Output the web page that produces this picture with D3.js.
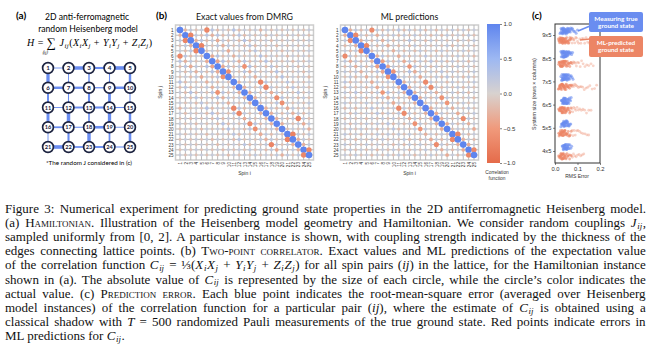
<!DOCTYPE html>
<html>
<head>
<meta charset="utf-8">
<script src="https://cdn.jsdelivr.net/npm/d3@7"></script>
<style>
  html, body { margin: 0; padding: 0; background: #fff; }
  svg { display: block; }
  .cap { font-family: "Liberation Serif", serif; fill: #111; white-space: pre; }
  .sans { font-family: "Liberation Sans", Arial, sans-serif; }
  .lato { font-family: Lato, "Open Sans", sans-serif; }
</style>
</head>
<body>
<svg id="fig" width="651" height="348"></svg>
<script>
// ---------- data ----------
const spinLabels = [1,2,3,4,5,6,7,8,9,10,11,12,13,14,15,16,17,18,19,20,21,22,23,24,25];

// Couplings J_ij of the 5x5 lattice: [spin a, spin b, J]
const bondsH = [[1,2,0.3],[2,3,1.8],[3,4,1.0],[4,5,1.9],[6,7,1.2],[7,8,1.1],[8,9,0.5],[9,10,1.2],
  [11,12,0.3],[12,13,0.9],[13,14,1.0],[14,15,0.4],[16,17,0.8],[17,18,0.4],[18,19,1.3],[19,20,0.3],
  [21,22,1.9],[22,23,0.8],[23,24,0.9],[24,25,0.4]];
const bondsV = [[1,6,1.7],[2,7,0.3],[3,8,0.6],[4,9,0.4],[5,10,1.2],[6,11,0.9],[7,12,0.4],[8,13,1.0],
  [9,14,1.4],[10,15,0.4],[11,16,1.5],[12,17,1.8],[13,18,0.7],[14,19,1.7],[15,20,1.2],[16,21,0.3],
  [17,22,1.0],[18,23,1.8],[19,24,0.8],[20,25,1.3]];

// Correlation C_ij, lower triangle (row i holds j = 1..i); the matrix is symmetric
const corrDMRG = [
  [1],
  [-0.25,1],
  [0.2,-0.72,1],
  [-0.15,0.2,-0.3,1],
  [0.15,-0.2,0.25,-0.74,1],
  [-0.7,0.25,-0.2,0.15,-0.15,1],
  [0.25,-0.3,0.2,-0.15,0.15,-0.35,1],
  [-0.2,0.25,-0.35,0.2,-0.15,0.3,-0.4,1],
  [0.15,-0.2,0.2,-0.3,0.2,-0.2,0.3,-0.35,1],
  [-0.15,0.15,-0.2,0.2,-0.35,0.15,-0.2,0.25,-0.62,1],
  [0.3,-0.2,0.15,-0.15,0.15,-0.3,0.2,-0.2,0.15,-0.15,1],
  [-0.2,0.25,-0.2,0.15,-0.15,0.2,-0.3,0.2,-0.15,0.15,-0.25,1],
  [0.15,-0.2,0.3,-0.2,0.15,-0.15,0.25,-0.6,0.25,-0.2,0.2,-0.3,1],
  [-0.15,0.15,-0.2,0.25,-0.2,0.15,-0.2,0.3,-0.3,0.2,-0.15,0.2,-0.3,1],
  [0.15,-0.15,0.15,-0.2,0.25,-0.15,0.15,-0.2,0.2,-0.3,0.15,-0.15,0.2,-0.3,1],
  [-0.25,0.15,-0.15,0.15,-0.15,0.3,-0.2,0.15,-0.15,0.15,-0.72,0.25,-0.2,0.15,-0.15,1],
  [0.15,-0.2,0.15,-0.15,0.15,-0.2,0.3,-0.2,0.15,-0.15,0.25,-0.72,0.2,-0.15,0.15,-0.3,1],
  [-0.15,0.15,-0.2,0.15,-0.15,0.15,-0.2,0.25,-0.2,0.15,-0.15,0.2,-0.35,0.2,-0.15,0.2,-0.3,1],
  [0.15,-0.15,0.15,-0.2,0.15,-0.15,0.15,-0.2,0.3,-0.2,0.15,-0.15,0.2,-0.65,0.25,-0.2,0.2,-0.3,1],
  [-0.15,0.15,-0.15,0.15,-0.2,0.15,-0.15,0.15,-0.2,0.3,-0.15,0.15,-0.2,0.25,-0.62,0.15,-0.2,0.2,-0.3,1],
  [0.15,-0.15,0.15,-0.15,0.15,-0.2,0.15,-0.15,0.15,-0.15,0.25,-0.2,0.15,-0.15,0.15,-0.35,0.2,-0.2,0.15,-0.15,1],
  [-0.15,0.15,-0.15,0.15,-0.15,0.15,-0.2,0.15,-0.15,0.15,-0.2,0.25,-0.15,0.15,-0.15,0.2,-0.3,0.2,-0.15,0.15,-0.74,1],
  [0.15,-0.15,0.15,-0.15,0.15,-0.15,0.15,-0.2,0.15,-0.15,0.15,-0.15,0.25,-0.2,0.15,-0.15,0.2,-0.72,0.2,-0.15,0.2,-0.3,1],
  [-0.15,0.15,-0.15,0.15,-0.15,0.15,-0.15,0.15,-0.2,0.15,-0.15,0.15,-0.15,0.2,-0.15,0.15,-0.2,0.2,-0.35,0.2,-0.15,0.2,-0.3,1],
  [0.15,-0.15,0.15,-0.15,0.15,-0.15,0.15,-0.15,0.15,-0.2,0.15,-0.15,0.15,-0.15,0.2,-0.15,0.15,-0.15,0.2,-0.3,0.2,-0.15,0.2,-0.7,1]
];
const corrML = [
  [1],
  [-0.3,1],
  [0.2,-0.68,1],
  [-0.2,0.15,-0.3,1],
  [0.15,-0.2,0.2,-0.7,1],
  [-0.66,0.2,-0.2,0.15,-0.2,1],
  [0.2,-0.3,0.2,-0.2,0.15,-0.3,1],
  [-0.2,0.2,-0.3,0.2,-0.2,0.25,-0.45,1],
  [0.2,-0.15,0.2,-0.3,0.15,-0.2,0.25,-0.4,1],
  [-0.15,0.2,-0.2,0.15,-0.3,0.15,-0.2,0.2,-0.58,1],
  [0.25,-0.2,0.15,-0.2,0.15,-0.35,0.2,-0.15,0.2,-0.15,1],
  [-0.2,0.2,-0.15,0.15,-0.2,0.2,-0.35,0.2,-0.15,0.2,-0.3,1],
  [0.2,-0.15,0.25,-0.2,0.15,-0.2,0.2,-0.55,0.3,-0.15,0.2,-0.3,1],
  [-0.15,0.2,-0.15,0.2,-0.2,0.15,-0.2,0.25,-0.35,0.2,-0.2,0.15,-0.3,1],
  [0.2,-0.15,0.15,-0.15,0.2,-0.15,0.2,-0.15,0.2,-0.35,0.15,-0.2,0.15,-0.3,1],
  [-0.2,0.15,-0.2,0.15,-0.15,0.25,-0.15,0.2,-0.15,0.15,-0.68,0.2,-0.2,0.2,-0.15,1],
  [0.15,-0.2,0.2,-0.15,0.15,-0.15,0.25,-0.2,0.2,-0.15,0.2,-0.66,0.2,-0.2,0.15,-0.3,1],
  [-0.2,0.15,-0.15,0.15,-0.2,0.15,-0.15,0.2,-0.15,0.2,-0.15,0.15,-0.3,0.2,-0.2,0.15,-0.35,1],
  [0.15,-0.2,0.15,-0.15,0.2,-0.15,0.2,-0.15,0.25,-0.2,0.15,-0.2,0.15,-0.6,0.2,-0.15,0.2,-0.3,1],
  [-0.15,0.2,-0.15,0.2,-0.15,0.15,-0.2,0.15,-0.15,0.25,-0.2,0.15,-0.15,0.2,-0.55,0.2,-0.15,0.15,-0.35,1],
  [0.2,-0.15,0.15,-0.2,0.15,-0.15,0.2,-0.15,0.2,-0.15,0.2,-0.15,0.2,-0.15,0.15,-0.3,0.15,-0.2,0.2,-0.15,1],
  [-0.15,0.15,-0.2,0.15,-0.15,0.2,-0.15,0.2,-0.15,0.15,-0.15,0.2,-0.2,0.15,-0.2,0.15,-0.35,0.15,-0.2,0.15,-0.7,1],
  [0.2,-0.15,0.15,-0.15,0.2,-0.15,0.15,-0.15,0.15,-0.2,0.15,-0.2,0.2,-0.15,0.2,-0.15,0.15,-0.66,0.2,-0.2,0.15,-0.3,1],
  [-0.15,0.2,-0.15,0.15,-0.15,0.15,-0.2,0.15,-0.15,0.2,-0.15,0.15,-0.2,0.15,-0.15,0.2,-0.15,0.2,-0.3,0.15,-0.2,0.15,-0.35,1],
  [0.15,-0.15,0.2,-0.15,0.15,-0.2,0.15,-0.15,0.2,-0.15,0.2,-0.15,0.15,-0.2,0.15,-0.15,0.2,-0.15,0.15,-0.35,0.15,-0.2,0.15,-0.68,1]
];
const colorbarTicks = [1.0, 0.5, 0.0, -0.5, -1.0];

// RMS error (x 1e-3) per correlator pair, by system size
const systemSizes = ["9x5","8x5","7x5","6x5","5x5","4x5"];
const rmsShadow = [
  [22,25,27,29,30,31,32,33,34,35,35,36,37,37,38,39,39,40,41,41,42,43,43,44,45,45,46,47,47,48,49,50,50,51,52,53,54,55,56,57,58,59,61,62,64,66,68,70,73,76,79,83,88,94,100],
  [26,28,30,31,32,33,34,35,36,36,37,38,38,39,40,40,41,42,42,43,44,44,45,46,46,47,48,49,50,50,51,52,53,54,55,56,57,58,60,61,63,65,67,70,74,78],
  [26,29,31,32,33,34,35,36,37,37,38,39,39,40,41,41,42,43,43,44,45,45,46,47,48,48,49,50,51,52,53,54,55,56,57,59,60,62,64,66,69,72,76,80],
  [28,30,32,33,34,35,36,37,38,38,39,40,41,41,42,43,43,44,45,46,46,47,48,49,50,51,52,53,54,55,56,57,59,60,62,64,66,69,72],
  [26,29,31,32,34,35,36,37,38,38,39,40,41,41,42,43,44,44,45,46,47,48,49,50,51,52,53,55,56,57,59,61,63,66,70],
  [32,34,36,37,38,39,40,41,42,43,43,44,45,46,47,47,48,49,50,51,52,53,54,55,56,58,59,61,63,66,70,74]
];
const rmsML = [
  [15,17,19,20,21,22,23,24,25,26,27,27,28,29,30,30,31,32,33,33,34,35,36,36,37,38,39,40,40,41,42,43,44,45,46,47,48,49,50,52,53,55,57,58,60,62,64,66,68,71,73,76,79,82,85,88,92,96,100,105,110,115,120,126,132,138,145,152,160,168,176,184],
  [16,18,20,21,22,23,24,25,26,27,28,29,30,30,31,32,33,34,35,35,36,37,38,39,40,41,42,43,44,45,46,48,49,51,53,55,57,59,61,64,66,69,72,75,78,82,86,90,95,100,106,112,118,125,133,141,150,160,170],
  [15,17,19,21,22,23,24,25,26,27,28,29,30,31,31,32,33,34,35,36,37,38,38,39,40,41,42,43,44,46,47,49,50,52,54,56,58,60,63,65,68,71,74,77,81,85,89,94,99,104,110,116,123,130,138,146,155,165,176,185],
  [16,18,20,22,23,24,25,26,27,28,29,30,31,32,32,33,34,35,36,37,38,39,40,41,42,43,45,46,48,49,51,53,55,57,60,62,65,68,71,75,79,83,88,93,98,104,110,117,124,132,140,150,160],
  [16,18,20,22,23,24,25,26,27,28,29,30,31,32,33,34,35,36,37,38,39,40,41,42,44,45,47,48,50,52,54,57,59,62,65,68,72,76,80,85,90,96,102,109,116,124,133,142,150],
  [16,19,21,22,24,25,26,27,28,29,30,31,32,33,34,35,36,37,38,39,41,42,43,45,47,49,51,53,56,59,62,65,69,73,77,82,88,94,100,107,114,121,128]
];
const rmsTicks = [0.0, 0.1, 0.2];

// Caption lines: [text, style] — n normal, i italic, sub subscript, sc small caps
const captionLines = [
  [["Figure 3: Numerical experiment for predicting ground state properties in the 2D antiferromagnetic Heisenberg model.","n"]],
  [["(a) ","n"],["Hamiltonian","sc"],[". Illustration of the Heisenberg model geometry and Hamiltonian. We consider random couplings ","n"],["J","i"],["ij","sub"],[",","n"]],
  [["sampled uniformly from [0, 2]. A particular instance is shown, with coupling strength indicated by the thickness of the","n"]],
  [["edges connecting lattice points. (b) ","n"],["Two-point correlator","sc"],[". Exact values and ML predictions of the expectation value","n"]],
  [["of the correlation function ","n"],["C","i"],["ij","sub"],[" = ","n"],["⅓","n"],["(","n"],["X","i"],["i","sub"],["X","i"],["j","sub"],[" + ","n"],["Y","i"],["i","sub"],["Y","i"],["j","sub"],[" + ","n"],["Z","i"],["i","sub"],["Z","i"],["j","sub"],[") for all spin pairs (","n"],["ij","i"],[") in the lattice, for the Hamiltonian instance","n"]],
  [["shown in (a). The absolute value of ","n"],["C","i"],["ij","sub"],[" is represented by the size of each circle, while the circle\u2019s color indicates the","n"]],
  [["actual value. (c) ","n"],["Prediction error","sc"],[". Each blue point indicates the root-mean-square error (averaged over Heisenberg","n"]],
  [["model instances) of the correlation function for a particular pair (","n"],["ij","i"],["), where the estimate of ","n"],["C","i"],["ij","sub"],[" is obtained using a","n"]],
  [["classical shadow with ","n"],["T","i"],[" = 500 randomized Pauli measurements of the true ground state. Red points indicate errors in","n"]],
  [["ML predictions for ","n"],["C","i"],["ij","sub"],[".","n"]]
];

// ---------- styles ----------
const BLUE = "#6a8df0", RED = "#ec8565", NAVY = "#1c2340";
const corrColor = d3.scaleLinear()
  .domain([-1, -0.5, 0, 0.5, 1])
  .range(["#e56b4a", "#f09a7c", "#d8d2cf", "#9db8f2", "#5f85ee"]);
const corrRadius = d3.scaleLinear().domain([0, 1]).range([1.1, 3.3]);

const svg = d3.select("#fig");

// ---------- (a) lattice ----------
const gA = svg.append("g");
gA.append("text").attr("class", "lato").attr("x", 16).attr("y", 19)
  .attr("font-size", 10).attr("font-weight", 700).text("(a)");
gA.append("text").attr("class", "lato").attr("x", 87).attr("y", 20)
  .attr("text-anchor", "middle").attr("font-size", 8.6).text("2D anti-ferromagnetic");
gA.append("text").attr("class", "lato").attr("x", 88).attr("y", 32)
  .attr("text-anchor", "middle").attr("font-size", 8.6).text("random Heisenberg model");

// Hamiltonian formula
const eq = gA.append("text").attr("x", 27).attr("y", 46)
  .attr("font-family", "'Liberation Serif', serif").attr("font-size", 10).style("white-space", "pre");
(function () {
  let shift = 0;
  const parts = [["H","i"],[" = ","n"],["\u2211","big"],[" J","i"],["ij","sub"],["(","n"],["X","i"],["i","sub"],["X","i"],["j","sub"],[" + ","n"],
    ["Y","i"],["i","sub"],["Y","i"],["j","sub"],[" + ","n"],["Z","i"],["i","sub"],["Z","i"],["j","sub"],[")","n"]];
  parts.forEach(([s, k]) => {
    const ts = eq.append("tspan").text(s);
    if (k === "i" || k === "sub") ts.attr("font-style", "italic");
    if (k === "sub") ts.attr("font-size", 6.8);
    if (k === "big") ts.attr("font-size", 13);
    const target = k === "sub" ? 2 : (k === "big" ? 1 : 0);
    if (target !== shift) { ts.attr("dy", target - shift); shift = target; }
  });
})();
eq.attr("textLength", 125).attr("lengthAdjust", "spacing");
gA.append("text").attr("x", 45).attr("y", 54).attr("text-anchor", "middle")
  .attr("font-family", "'Liberation Serif', serif").attr("font-style", "italic")
  .attr("font-size", 5).text("\u27e8ij\u27e9");

const latX = d3.scaleLinear().domain([0, 4]).range([48, 130]);
const latY = d3.scaleLinear().domain([0, 4]).range([68, 147]);
const bondW = d3.scaleLinear().domain([0, 2]).range([0.4, 3.8]);
const nodePos = s => [latX((s - 1) % 5), latY(Math.floor((s - 1) / 5))];
gA.append("g").selectAll("line").data(bondsH.concat(bondsV)).join("line")
  .attr("x1", d => nodePos(d[0])[0]).attr("y1", d => nodePos(d[0])[1])
  .attr("x2", d => nodePos(d[1])[0]).attr("y2", d => nodePos(d[1])[1])
  .attr("stroke", BLUE).attr("stroke-width", d => bondW(d[2]));
const nodes = gA.append("g").selectAll("g").data(spinLabels).join("g")
  .attr("transform", d => `translate(${nodePos(d)[0]},${nodePos(d)[1]})`);
nodes.append("circle").attr("r", 5.4).attr("fill", "#fff").attr("stroke", NAVY).attr("stroke-width", 1.7);
nodes.append("text").attr("class", "lato").attr("text-anchor", "middle").attr("dy", "0.36em")
  .attr("font-size", d => d > 9 ? 5.6 : 6.2).attr("font-weight", 700).attr("fill", NAVY).text(d => d);
gA.append("text").attr("class", "lato").attr("x", 89).attr("y", 165).attr("text-anchor", "middle")
  .attr("font-size", 6.3).text("*The random J considered in (c)");

// ---------- (b) correlation matrices ----------
svg.append("text").attr("class", "lato").attr("x", 156).attr("y", 19)
  .attr("font-size", 10).attr("font-weight", 700).text("(b)");

function drawMatrix(lower, x0, title) {
  const g = svg.append("g");
  const full = spinLabels.map((_, i) => spinLabels.map((_, j) => i >= j ? lower[i][j] : lower[j][i]));
  const cells = [];
  spinLabels.forEach((si, i) => spinLabels.forEach((sj, j) => cells.push({ i: si, j: sj, v: full[j][i] })));
  const x = d3.scalePoint().domain(spinLabels).range([x0, x0 + 129]);
  const y = d3.scalePoint().domain(spinLabels).range([30, 155]);
  const top = 25, bot = 160, left = x0 - 4.5, right = x0 + 133.5;

  g.append("rect").attr("x", left).attr("y", top).attr("width", right - left).attr("height", bot - top)
    .attr("fill", "#fff").attr("stroke", "#cdcdcd").attr("stroke-width", 1.5);
  g.append("g").selectAll("line.v").data(spinLabels).join("line")
    .attr("x1", d => x(d)).attr("x2", d => x(d)).attr("y1", top).attr("y2", bot)
    .attr("stroke", "#b9b9b9").attr("stroke-width", 1);
  g.append("g").selectAll("line.h").data(spinLabels).join("line")
    .attr("y1", d => y(d)).attr("y2", d => y(d)).attr("x1", left).attr("x2", right)
    .attr("stroke", "#b9b9b9").attr("stroke-width", 1);
  g.append("g").selectAll("circle").data(cells).join("circle")
    .attr("cx", d => x(d.i)).attr("cy", d => y(d.j))
    .attr("r", d => corrRadius(Math.abs(d.v)))
    .attr("fill", d => corrColor(d.v));

  const ay = g.append("g").attr("transform", `translate(${left},0)`)
    .call(d3.axisLeft(y).tickSize(0).tickPadding(2));
  const ax = g.append("g").attr("transform", `translate(0,${bot})`)
    .call(d3.axisBottom(x).tickSize(0).tickPadding(2));
  [ay, ax].forEach(a => {
    a.select(".domain").remove();
    a.selectAll("text").attr("font-family", "'Liberation Sans', Arial, sans-serif")
      .attr("font-size", 4.6).attr("fill", "#333");
  });
  ax.selectAll("text").attr("transform", "rotate(-90)").attr("text-anchor", "end")
    .attr("dy", "0.35em").attr("x", -2).attr("y", 0);

  g.append("text").attr("class", "sans").attr("x", (left + right) / 2).attr("y", 175)
    .attr("text-anchor", "middle").attr("font-size", 5).attr("fill", "#333").text("Spin i");
  g.append("text").attr("class", "sans")
    .attr("transform", `translate(${left - 14},${(top + bot) / 2}) rotate(-90)`)
    .attr("text-anchor", "middle").attr("font-size", 5).attr("fill", "#333").text("Spin j");
  g.append("text").attr("class", "lato").attr("x", (left + right) / 2).attr("y", 20)
    .attr("text-anchor", "middle").attr("font-size", 8.8).attr("fill", "#111").text(title);
}
drawMatrix(corrDMRG, 180, "Exact values from DMRG");
drawMatrix(corrML, 345, "ML predictions");

// colorbar
const cb = svg.append("g");
const cbY = d3.scaleLinear().domain([-1, 1]).range([163, 24]);
const grad = svg.append("defs").append("linearGradient").attr("id", "cbGrad")
  .attr("x1", 0).attr("y1", 1).attr("x2", 0).attr("y2", 0);
grad.selectAll("stop").data(corrColor.domain()).join("stop")
  .attr("offset", d => (d + 1) / 2).attr("stop-color", d => corrColor(d));
cb.append("rect").attr("x", 487).attr("y", cbY(1)).attr("width", 13)
  .attr("height", cbY(-1) - cbY(1)).attr("fill", "url(#cbGrad)");
const cbAxis = cb.append("g").attr("transform", "translate(500,0)")
  .call(d3.axisRight(cbY).tickValues(colorbarTicks).tickSize(2).tickPadding(1.5)
    .tickFormat(d => d3.format(".1f")(d).replace("-", "\u2212")));
cbAxis.select(".domain").remove();
cbAxis.selectAll("line").attr("stroke", "#333").attr("stroke-width", 0.6);
cbAxis.selectAll("text").attr("font-family", "'Liberation Sans', Arial, sans-serif")
  .attr("font-size", 6).attr("fill", "#333");
cb.append("text").attr("class", "sans").attr("x", 497).attr("y", 174).attr("text-anchor", "middle")
  .attr("font-size", 4.8).attr("fill", "#333").text("Correlation");
cb.append("text").attr("class", "sans").attr("x", 497).attr("y", 180).attr("text-anchor", "middle")
  .attr("font-size", 4.8).attr("fill", "#333").text("function");

// ---------- (c) prediction error ----------
const gC = svg.append("g");
gC.append("text").attr("class", "lato").attr("x", 532).attr("y", 19)
  .attr("font-size", 10).attr("font-weight", 700).text("(c)");
const cx = d3.scaleLinear().domain([0, 0.2]).range([555, 600]);
const cy = d3.scalePoint().domain(systemSizes).range([35, 151]);
// strip-plot jitter: deterministic scatter of each point within its band
const jitter = k => { const s = Math.sin(k * 78.233 + 12.9898) * 43758.5453; return s - Math.floor(s) - 0.5; };

systemSizes.forEach((size, si) => {
  gC.append("g").selectAll("circle").data(rmsShadow[si]).join("circle")
    .attr("cx", d => cx(d / 1000)).attr("cy", (d, k) => cy(size) - 4 + jitter(si * 100 + k) * 6)
    .attr("r", 1.5).attr("fill", BLUE).attr("fill-opacity", 0.6);
  gC.append("g").selectAll("circle").data(rmsML[si]).join("circle")
    .attr("cx", d => cx(d / 1000)).attr("cy", (d, k) => cy(size) + 5.5 + jitter(si * 100 + k + 50) * 6)
    .attr("r", 1.4).attr("fill", RED).attr("fill-opacity", d => d < 75 ? 0.6 : 0.35);
});
gC.append("rect").attr("x", 555).attr("y", 24).attr("width", 45).attr("height", 139)
  .attr("fill", "none").attr("stroke", "#333").attr("stroke-width", 1);
const cAxX = gC.append("g").attr("transform", "translate(0,163)")
  .call(d3.axisBottom(cx).tickValues(rmsTicks).tickSize(2).tickPadding(1.5).tickFormat(d3.format(".1f")));
const cAxY = gC.append("g").attr("transform", "translate(555,0)")
  .call(d3.axisLeft(cy).tickSize(2).tickPadding(1.5));
[cAxX, cAxY].forEach(a => {
  a.select(".domain").remove();
  a.selectAll("line").attr("stroke", "#333").attr("stroke-width", 0.6);
  a.selectAll("text").attr("font-family", "'Liberation Sans', Arial, sans-serif")
    .attr("font-size", 5.8).attr("fill", "#333");
});
gC.append("text").attr("class", "sans").attr("x", 577).attr("y", 178).attr("text-anchor", "middle")
  .attr("font-size", 5).attr("fill", "#333").text("RMS Error");
gC.append("text").attr("class", "sans").attr("transform", "translate(536,94) rotate(-90)")
  .attr("text-anchor", "middle").attr("font-size", 5.4).attr("fill", "#333")
  .text("System size (rows \u00d7 columns)");

// legend callouts
const legend = [
  { y: 12, h: 20, fill: BLUE, lines: ["Measuring true", "ground state"], tip: [[590, 26], [578, 31]] },
  { y: 36, h: 21, fill: RED, lines: ["ML-predicted", "ground state"], tip: [[590, 39], [580, 40]] }
];
legend.forEach(l => {
  gC.append("path").attr("d", d3.line()(l.tip)).attr("stroke", l.fill).attr("stroke-width", 1.6);
  gC.append("rect").attr("x", 589).attr("y", l.y).attr("width", 54).attr("height", l.h)
    .attr("rx", 2).attr("fill", l.fill);
  l.lines.forEach((t, k) => gC.append("text").attr("class", "lato").attr("x", 616)
    .attr("y", l.y + 8.5 + k * 7.2).attr("text-anchor", "middle").attr("font-size", 6.4)
    .attr("font-weight", 700).attr("fill", "#fff").text(t));
});

// ---------- caption ----------
const capG = svg.append("g");
const capW = 641, capTop = 213, capStep = 14.1, capSize = 13;
captionLines.forEach((segs, li) => {
  const t = capG.append("text").attr("class", "cap").attr("x", 5)
    .attr("y", capTop + li * capStep).attr("font-size", capSize);
  let shift = 0, prevSub = false;
  segs.forEach(([s, k]) => {
    const ts = t.append("tspan").text(s);
    if (k === "i" || k === "sub") ts.attr("font-style", "italic");
    if (k === "sub") ts.attr("font-size", "0.68em");
    if (k === "sc") ts.style("font-variant", "small-caps");
    // small gap around subscripts so italic glyphs do not collide
    if (k === "sub" || prevSub) ts.attr("dx", 0.6);
    prevSub = k === "sub";
    const target = k === "sub" ? 1.8 : 0;
    if (target !== shift) { ts.attr("dy", target - shift); shift = target; }
  });
  if (li < captionLines.length - 1) {
    let len = t.node().getBBox().width;
    // a line that is naturally too long is set in a slightly smaller size
    if (len > capW - 8) {
      t.attr("font-size", capSize * (capW - 14) / len);
      len = t.node().getBBox().width;
    }
    const spaces = segs.map(d => d[0]).join("").split(" ").length - 1;
    t.style("word-spacing", Math.max(0, (capW - len) / spaces) + "px");
  }
});
</script>
</body>
</html>
